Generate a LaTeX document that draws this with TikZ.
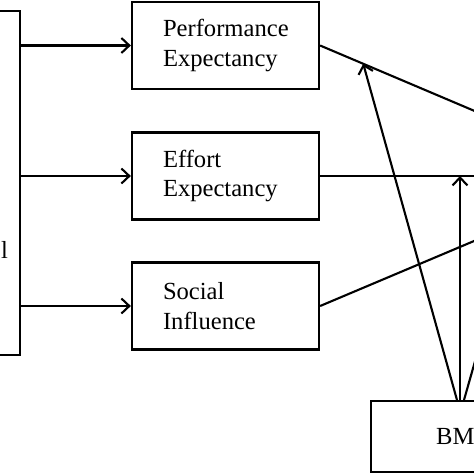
\documentclass[tikz,border=0pt]{standalone}
\usepackage{fontspec}
\setmainfont{Liberation Serif}
\usepackage{tikz}
\usetikzlibrary{arrows.meta}
\usetikzlibrary{calc}
\tikzset{arrow/.style={-{Straight Barb[length=4.5pt,width=8.5pt]}, line width=1.2pt}}
\tikzset{link/.style={line width=1.2pt}}
\tikzset{box/.style={draw, line width=1.3pt, minimum width=3.74cm, minimum height=1.74cm, text width=2.5cm, align=left, inner sep=0pt, font=\fontsize{14}{17}\selectfont}}

\begin{document}
\begin{tikzpicture}[x=0.02cm, y=-0.02cm]
    \useasboundingbox (0,0) rectangle (474,474);
    \clip (0,0) rectangle (474,474);
    \node[box, anchor=north east, minimum width=4cm, minimum height=6.89cm] (iv) at (21,9.5) {};
    \node[inner sep=0pt, font=\fontsize{14}{17}\selectfont] (ivl) at (4.5,249.5) {l};
    \node[box] (pe) at (225.5,45.5) {Performance\\Expectancy};
    \node[box] (ee) at (225.5,176) {Effort\\Expectancy};
    \node[box] (si) at (225.5,306) {Social\\Influence};
    \node[box, anchor=north west, minimum width=0pt, minimum height=1.42cm, text width=2cm, inner xsep=1.3cm] (bmi) at (370,400) {BM};
    \coordinate (bi) at (628,176);
    \draw[arrow] (iv.east |- pe.west) -- (pe.west);
    \draw[arrow] (iv.east |- ee.west) -- (ee.west);
    \draw[arrow] (iv.east |- si.west) -- (si.west);
    \draw[link] (pe.east) -- (bi);
    \draw[link] (ee.east) -- (bi);
    \draw[link] (si.east) -- (bi);
    % moderator
    \coordinate (b1) at ($(bmi.north west)+(87,0)$);
    \coordinate (b2) at ($(bmi.north west)+(90,0)$);
    \coordinate (b3) at ($(bmi.north west)+(94,0)$);
    \coordinate (m1) at ($(pe.east)!0.14!(bi)$);
    \coordinate (m2) at (b2 |- ee.east);
    \coordinate (m3) at ($(si.east)!0.63!(bi)$);
    \draw[arrow] (b1) -- (m1);
    \draw[arrow] (b2) -- (m2);
    \draw[arrow] (b3) -- (m3);
  \end{tikzpicture}
\end{document}
